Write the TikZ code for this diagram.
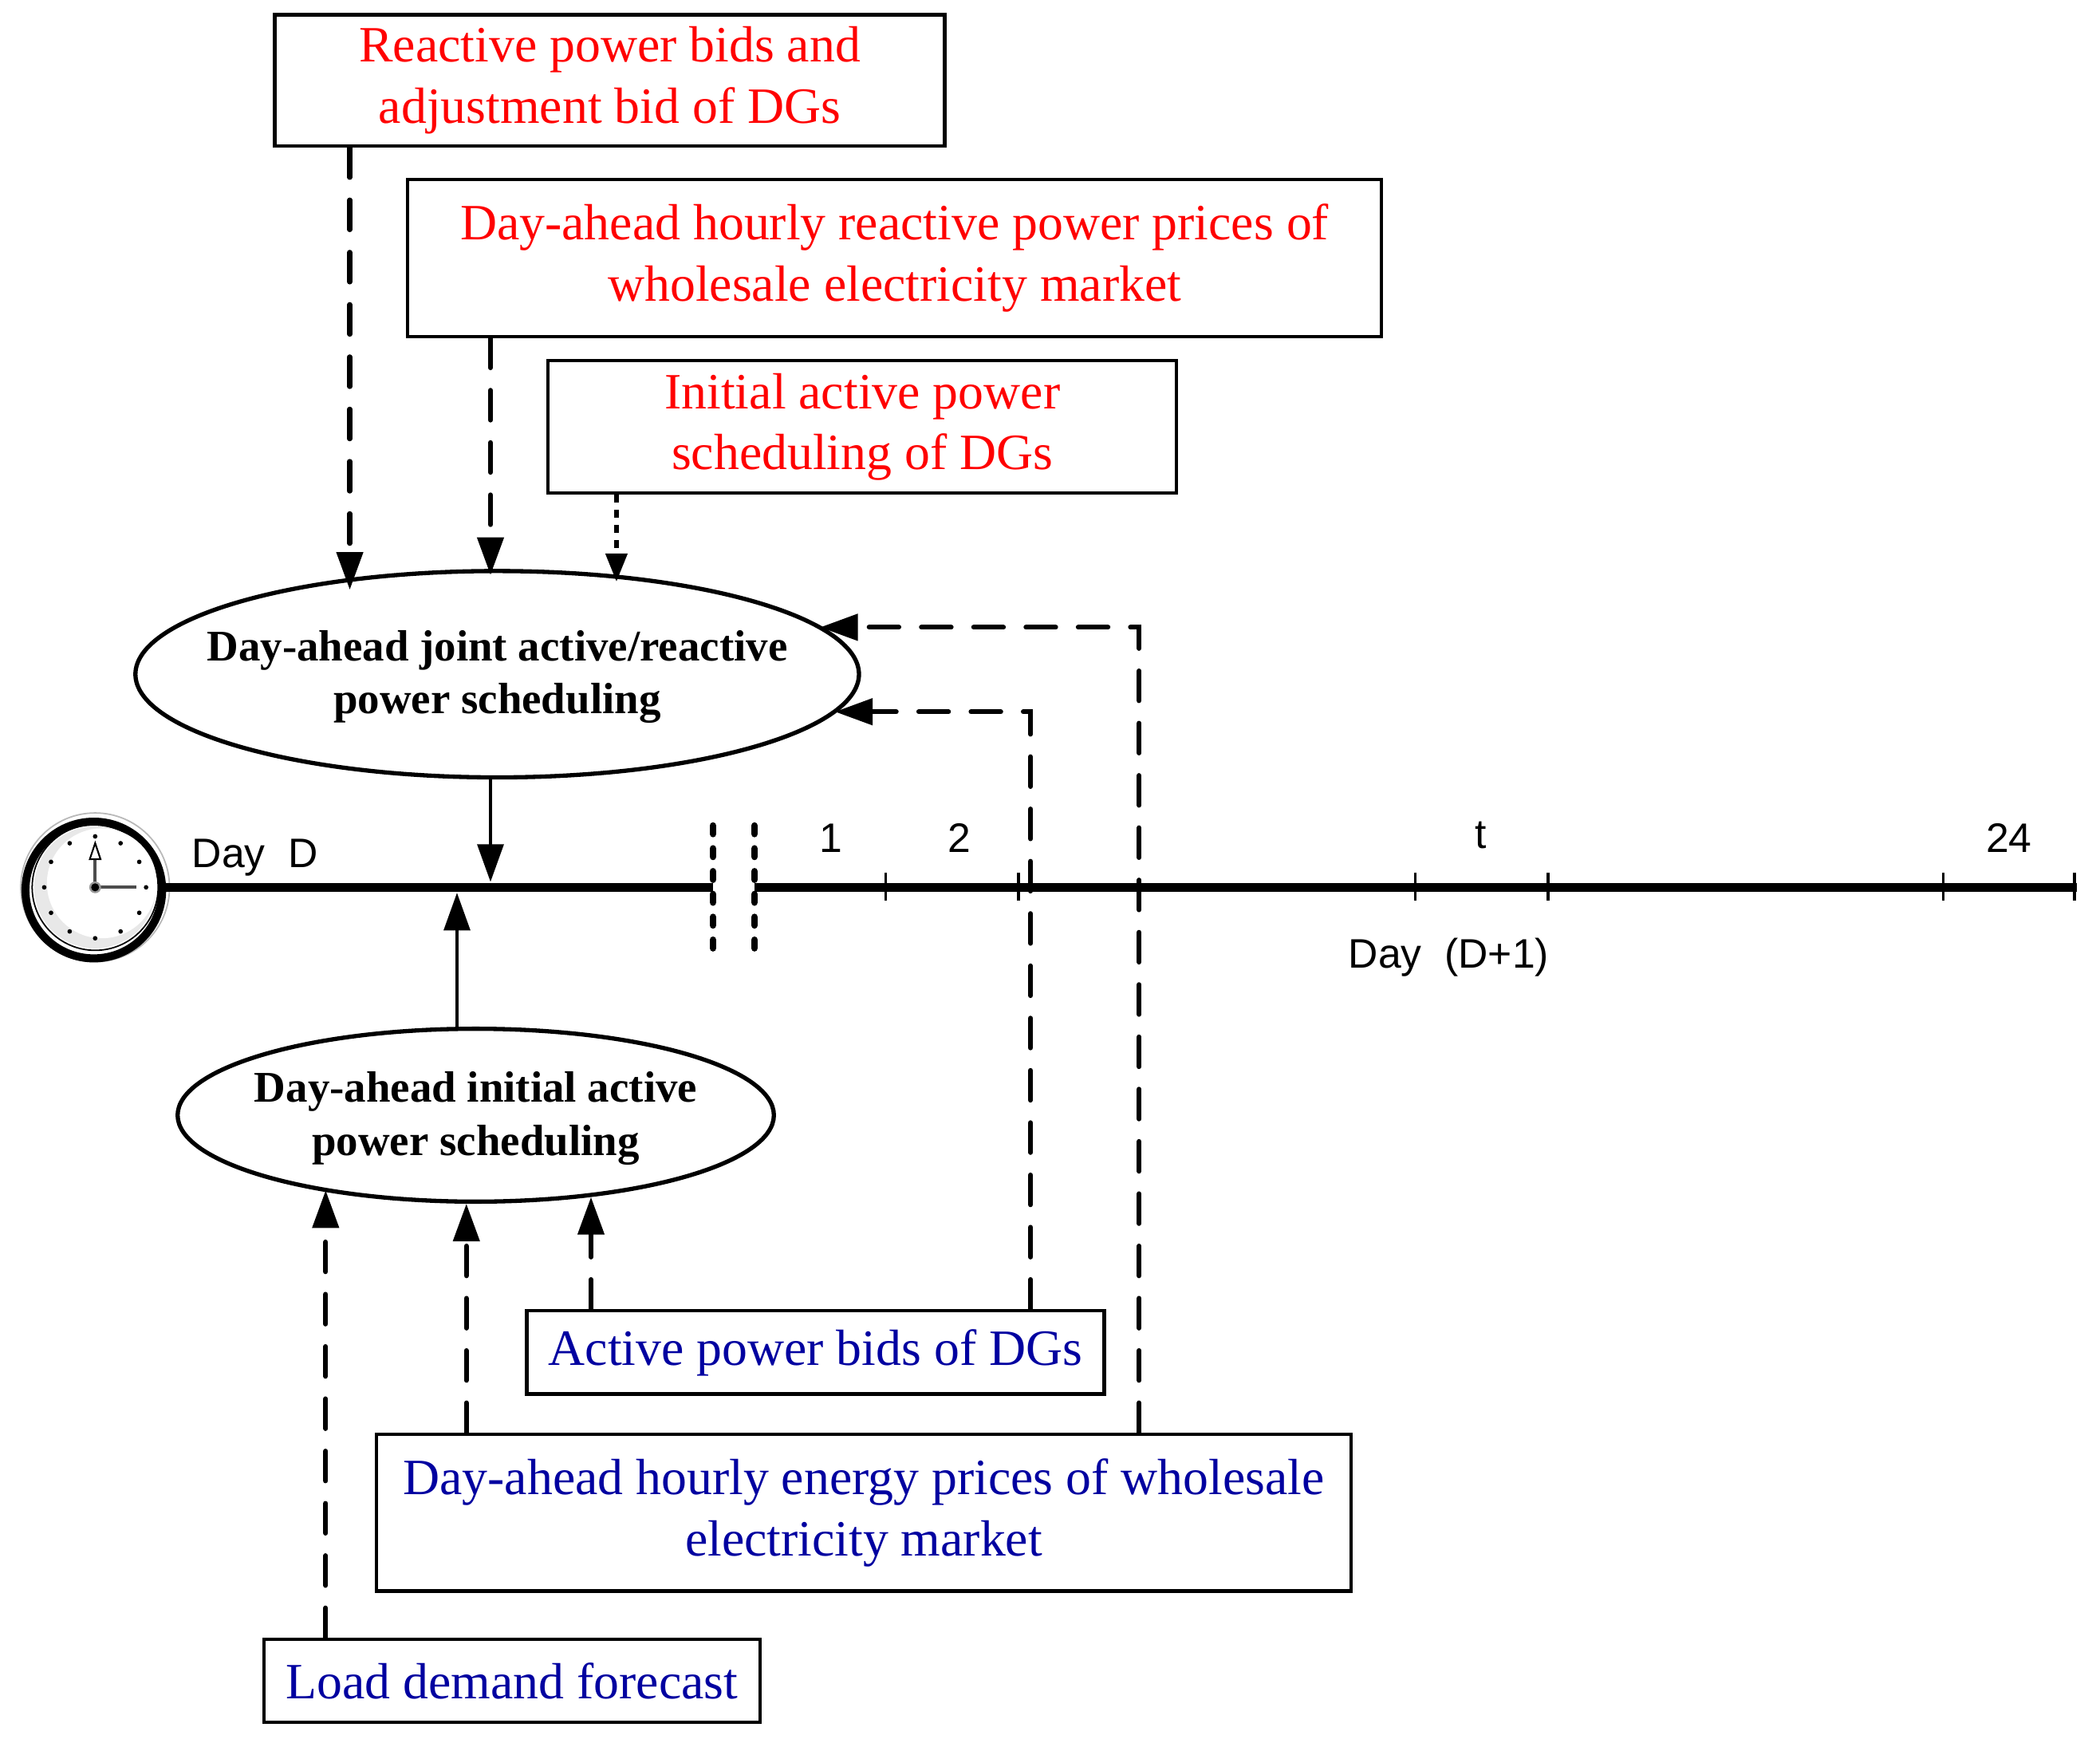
\documentclass[tikz,border=0pt]{standalone}
\usepackage{fontspec}
\setmainfont{Liberation Serif}
\newfontfamily\arialf{Liberation Sans}
\usetikzlibrary{arrows.meta,shapes.geometric}
\definecolor{myred}{RGB}{255,0,0}
\definecolor{myblue}{RGB}{0,0,160}
\begin{document}
\begin{tikzpicture}[x=0.02cm,y=-0.02cm,
  infobox/.style={draw,line width=1.4pt,inner sep=0pt,align=center,font=\fontsize{21.6}{26}\selectfont},
  redbox/.style={infobox,text=myred},
  bluebox/.style={infobox,text=myblue},
  proc/.style={draw,ellipse,line width=1.8pt,inner sep=0pt},
  proctext/.style={inner sep=0pt,align=center,font=\bfseries\fontsize{18.6}{22.5}\selectfont},
  bigtip/.style={-{Triangle[length=16pt,width=11pt]}},
  darr/.style={bigtip,line width=2.1pt,line cap=round,dash pattern=on 12.6pt off 9.6pt},
  dotarr/.style={-{Triangle[length=12pt,width=9pt]},line width=2pt,dash pattern=on 3.2pt off 3.2pt},
  sarr/.style={bigtip,line width=1.6pt},
  tlabel/.style={font=\arialf\fontsize{17.5}{21}\selectfont,anchor=base,inner sep=0pt},
  tick/.style={line width=1.2pt},
  brk/.style={line width=2.9pt,line cap=round,dash pattern=on 3.5pt off 6.2pt}
]
\useasboundingbox (0,0) rectangle (1567,1300);

% boxes
\node[redbox,minimum width=10cm,minimum height=1.96cm] (box1) at (455,60)
  {Reactive power bids and\\adjustment bid of DGs};
\node[redbox,minimum width=14.54cm,minimum height=2.34cm] (box2) at (667.5,192.5)
  {Day-ahead hourly reactive power prices of\\wholesale electricity market};
\node[redbox,minimum width=9.38cm,minimum height=1.98cm] (box3) at (643.5,318.5)
  {Initial active power\\scheduling of DGs};
\node[bluebox,minimum width=8.62cm,minimum height=1.24cm] (box4) at (608.5,1009)
  {Active power bids of DGs};
\node[bluebox,minimum width=14.54cm,minimum height=2.34cm] (box5) at (644.5,1128.5)
  {Day-ahead hourly energy prices of wholesale\\electricity market};
\node[bluebox,minimum width=7.4cm,minimum height=1.24cm] (box6) at (382,1254)
  {Load demand forecast};

% ellipses
\node[proc,minimum width=10.8cm,minimum height=3.08cm] (ell1) at (371,503) {};
\node[proctext] (ell1t) at (371,505) {Day-ahead joint active/reactive\\power scheduling};
\node[proc,minimum width=8.9cm,minimum height=2.58cm] (ell2) at (355,832) {};
\node[proctext] (ell2t) at (355,834.5) {Day-ahead initial active\\power scheduling};

% clock
\draw[gray!55,line width=0.6pt] (71,662) circle (55.5);
\draw[line width=3.4pt] (70,664) circle (51);
\draw[line width=0.6pt] (71,662) circle (47);
\fill[gray!18] (71,662) circle (45.5);
\fill[white] (76,659) circle (41);
\foreach \a in {0,30,...,330}
  \fill ({71+38*cos(\a)},{662+38*sin(\a)}) circle (1.7);
\draw[line width=1.3pt,black!70] (71,662) -- (102,662);
\draw[line width=1.3pt,black!70] (71,662) -- (71,636);
\draw[line width=0.7pt,fill=white] (67,641) -- (71,629) -- (75,641) -- cycle;
\fill[black!40] (71,662) circle (4.4);
\fill (71,662) circle (3);
\coordinate (clk) at (124,662);

% timeline
\coordinate (brA) at (532,662);
\coordinate (brB) at (563,662);
\coordinate (tend) at (1550,662);
\draw[line width=3.8pt] (clk) -- (brA);
\draw[line width=3.8pt] (brB) -- (tend);
\draw[brk] (532,616) -- (532,712);
\draw[brk] (563,616) -- (563,712);
\foreach \x in {661,760,1056,1155,1450,1548}
  \draw[tick] (\x,651) -- (\x,672);

\node[tlabel,anchor=base west] (dayD) at (143,647) {Day\ \ D};
\node[tlabel] (h1) at (620,636) {1};
\node[tlabel] (h2) at (716,636) {2};
\node[tlabel] (ht) at (1105,633) {t};
\node[tlabel] (h24) at (1499,636) {24};
\node[tlabel] (dayD1) at (1081,722) {Day\ \ (D+1)};

% arrows into ell1 from the top
\coordinate (t1) at (261,440);
\coordinate (t2) at (366,429);
\coordinate (t3) at (460,434);
\draw[darr] (box1.south -| t1) -- (t1);
\draw[darr] (box2.south -| t2) -- (t2);
\draw[dotarr] (box3.south -| t3) -- (t3);

% ell1 -> timeline, ell2 -> timeline
\coordinate (tl1) at (366,658);
\coordinate (tl2) at (341,666);
\draw[sarr] (ell1.south -| tl1) -- (tl1);
\draw[sarr] (ell2.north -| tl2) -- (tl2);

% arrows into ell2 from below
\coordinate (b1) at (243,888);
\coordinate (b2) at (348,898);
\coordinate (b3) at (441,893);
\draw[darr] (box6.north -| b1) -- (b1);
\draw[darr] (box5.north -| b2) -- (b2);
\draw[darr] (box4.north -| b3) -- (b3);

% feedback arrows into ell1
\coordinate (fA) at (623,531);
\coordinate (cA) at (769,531);
\coordinate (fB) at (612,468);
\coordinate (cB) at (850,468);
\draw[darr] (box4.north -| cA) |- (fA);
\draw[darr] (box5.north -| cB) |- (fB);
\end{tikzpicture}
\end{document}
